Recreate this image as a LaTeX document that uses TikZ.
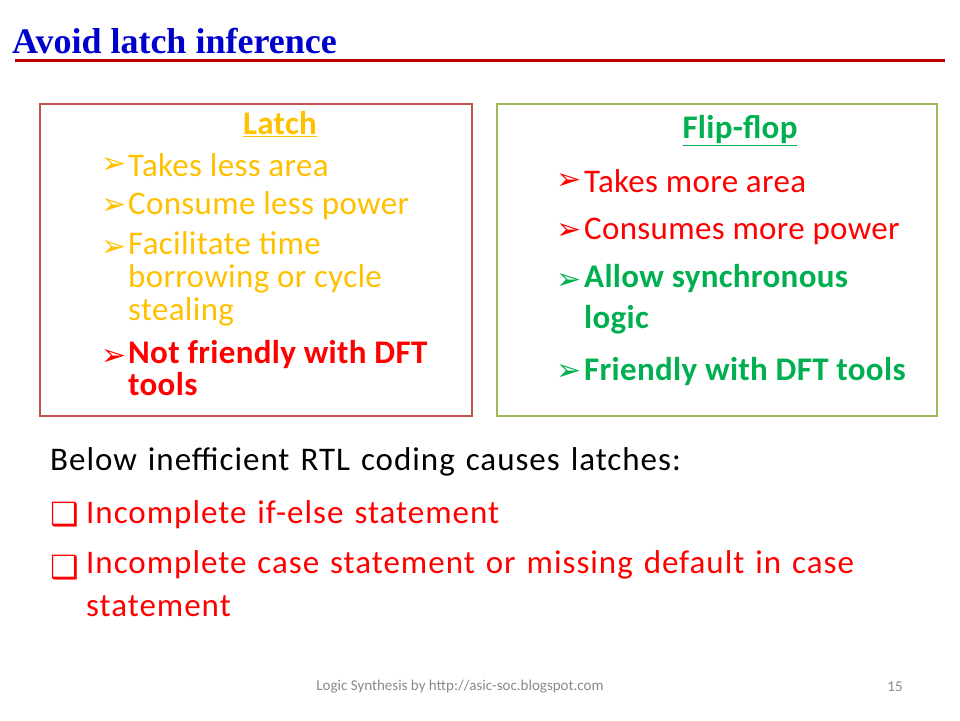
\documentclass[tikz,border=0pt]{standalone}
\usepackage{fontspec}
\setmainfont{Carlito}
\newfontfamily\titlefont{Liberation Serif}
\newfontfamily\symfont{DejaVu Sans}
\newfontfamily\wide[LetterSpace=1]{Carlito}
\newfontfamily\wider[LetterSpace=3,WordSpace=1.3]{Carlito}
\definecolor{titleblue}{RGB}{0,0,204}
\definecolor{rulered}{RGB}{192,0,0}
\definecolor{latchbox}{RGB}{192,80,77}
\definecolor{ffbox}{RGB}{155,187,89}
\definecolor{gold}{RGB}{255,192,0}
\definecolor{ffgreen}{RGB}{0,176,80}
\definecolor{foot}{RGB}{137,137,137}
\newcommand{\bul}{{\symfont\bfseries\fontsize{30}{30}\selectfont ➢}}
\newcommand{\sqbul}{{\symfont\bfseries\fontsize{32}{32}\selectfont ❑}}
\begin{document}
\begin{tikzpicture}[x=1pt,y=-1pt,
  txt/.style={anchor=west,inner sep=0,font=\wide\fontsize{33}{33}\selectfont},
  itm/.style={txt,align=left},
  bx/.style={line width=2pt}]
\useasboundingbox (0,0) rectangle (960,720);
% title
\node[anchor=west,inner sep=0,text=titleblue,font=\titlefont\bfseries\fontsize{36}{36}\selectfont] (title) at (12,41) {Avoid latch inference};
\draw[rulered,line width=3pt] (15,60) -- (945,60);
% boxes
\draw[bx,latchbox] (40,104) rectangle (472,416);
\draw[bx,ffbox] (497,104) rectangle (937,416);
% latch
\node[txt,anchor=center,text=gold,font=\wide\bfseries\fontsize{33}{33}\selectfont] (latch) at (280,124) {\underline{Latch}};
\begin{scope}[every node/.style={itm,text=gold}]
\node (l1b) at (101,165) {\bul};
\node (l1) at (128,165) {Takes less area};
\node (l2b) at (101,206) {\bul};
\node (l2) at (128,206) {Consume less power};
\node (l3b) at (101,248) {\bul};
\node[anchor=north west] (l3) at (128,231) {Facilitate time\\borrowing or cycle\\stealing};
\end{scope}
\node[itm,text=red] (l4b) at (101,357) {\bul};
\node[itm,anchor=north west,text=red,font=\wide\bfseries\fontsize{33}{32}\selectfont] (l4) at (128,340) {Not friendly with DFT\\tools};
% flip-flop
\node[txt,anchor=center,text=ffgreen,font=\wide\bfseries\fontsize{33}{33}\selectfont] (ff) at (740,131) {\underline{Flip-flop}};
\node[itm,text=red] (f1b) at (556,181) {\bul};
\node[itm,text=red] (f1) at (584,181) {Takes more area};
\node[itm,text=red] (f2b) at (556,231) {\bul};
\node[itm,text=red] (f2) at (584,231) {Consumes more power};
\begin{scope}[every node/.style={itm,text=ffgreen,font=\wide\bfseries\fontsize{33}{41}\selectfont}]
\node (f3b) at (556,281) {\bul};
\node[anchor=north west] (f3) at (584,264) {Allow synchronous\\logic};
\node (f4b) at (556,372) {\bul};
\node (f4) at (584,372) {Friendly with DFT tools};
\end{scope}
% below
\begin{scope}[every node/.style={txt,font=\wider\fontsize{33}{43}\selectfont}]
\node (below) at (50,462) {Below inefficient RTL coding causes latches:};
\node[text=red] (c1b) at (50,515) {\sqbul};
\node[text=red] (c1) at (86,515) {Incomplete if-else statement};
\node[text=red] (c2b) at (50,568) {\sqbul};
\node[align=left,anchor=north west,text=red] (c2) at (86,550) {Incomplete case statement or missing default in case\\statement};
\end{scope}
% footer
\node[text=foot,font=\fontsize{15}{15}\selectfont] (foot) at (460,687) {Logic Synthesis by http://asic-soc.blogspot.com};
\node[text=foot,font=\fontsize{15}{15}\selectfont] (page) at (895,687) {15};
\end{tikzpicture}
\end{document}
